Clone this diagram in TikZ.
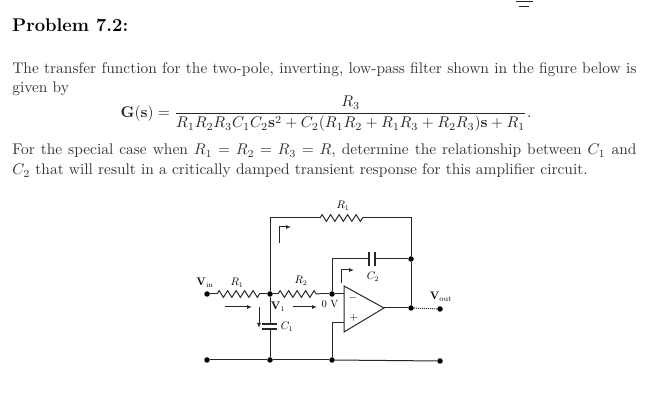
\documentclass[tikz,border=0pt]{standalone}
\usepackage{amsmath}
\usepackage{amssymb}
\usetikzlibrary{decorations.pathmorphing}
\usetikzlibrary{arrows.meta}
\tikzstyle{wire} = [line width=1pt, black!85]
\tikzstyle{dotnode} = [circle, fill=black, inner sep=0pt, minimum size=5.5pt]
\tikzstyle{resistor} = [line width=1pt, black!85, decorate, decoration={zigzag, segment length=8.5pt, amplitude=3.4pt}]
\tikzstyle{plate} = [line width=1.1pt, black!85]
\tikzstyle{current} = [line width=1pt, black!85, -{Latex[length=5pt,width=4pt]}]
\tikzstyle{bodytext} = [anchor=base west, inner sep=0pt, black!80, scale=1.545]
\tikzstyle{circuitlabel} = [inner sep=0pt, font=\fontsize{10.5}{11}\selectfont]
\begin{document}
\begin{tikzpicture}[x=1pt, y=-1pt]
    \useasboundingbox (0,0) rectangle (665,403);

    % text
    \node[inner sep=0pt, anchor=base west] (title) at (12,32) {\fontsize{18.4}{22}\selectfont\bfseries Problem 7.2:};
    \node[bodytext] (line_a) at (12,74) {\makebox[404pt][s]{The transfer function for the two-pole, inverting, low-pass filter shown in the figure below is}};
    \node[bodytext] (line_b) at (12,93) {given by};
    \node[inner sep=0pt, black!85, scale=1.545] (formula) at (326,114) {$\mathbf{G(s)} = \dfrac{R_3}{R_1R_2R_3C_1C_2\mathbf{s}^2 + C_2(R_1R_2 + R_1R_3 + R_2R_3)\mathbf{s} + R_1}.$};
    \node[bodytext] (line_c) at (12,155) {\makebox[404pt][s]{For the special case when $R_1 = R_2 = R_3 = R$, determine the relationship between $C_1$ and}};
    \node[bodytext] (line_d) at (12,175) {$C_2$ that will result in a critically damped transient response for this amplifier circuit.};

    % scan marks at the top edge
    \draw[wire] (516,2) -- (533,2);
    \draw[wire] (519,7) -- (529,7);

    % junctions
    \node[dotnode] (vin) at (207,294) {};
    \node[dotnode] (vone) at (270,294) {};
    \node[dotnode] (vminus) at (332,294) {};
    \node[dotnode] (vout) at (440,309) {};
    \node[dotnode] (outjoin) at (411,308) {};
    \node[dotnode] (capjoin) at (411,259) {};
    \node[dotnode] (gnd_a) at (207,360) {};
    \node[dotnode] (gnd_b) at (270,360) {};
    \node[dotnode] (gnd_c) at (332,360) {};
    \node[dotnode] (gnd_d) at (440,361) {};

    % op amp
    \coordinate (amp_a) at (344,286);
    \coordinate (amp_b) at (344,332);
    \coordinate (amp_c) at (384,308);
    \draw[wire] (amp_a) -- (amp_b) -- (amp_c) -- cycle;
    \coordinate (amp_minus) at (344,294);
    \coordinate (amp_plus) at (344,323);
    \coordinate (plus_bend) at (332,323);

    % resistors
    \coordinate (r_a_in) at (217,294);
    \coordinate (r_a_out) at (260,294);
    \coordinate (r_b_in) at (278,294);
    \coordinate (r_b_out) at (320,294);
    \coordinate (r_c_in) at (320,218);
    \coordinate (r_c_out) at (363,218);
    \coordinate (top_left) at (270,218);
    \coordinate (top_right) at (411,218);
    \draw[wire] (vin) -- (r_a_in);
    \draw[resistor] (r_a_in) -- (r_a_out);
    \draw[wire] (r_a_out) -- (vone);
    \draw[wire] (vone) -- (r_b_in);
    \draw[resistor] (r_b_in) -- (r_b_out);
    \draw[wire] (r_b_out) -- (vminus);
    \draw[wire] (vminus) -- (amp_minus);
    \draw[wire] (vone) -- (top_left) -- (r_c_in);
    \draw[resistor] (r_c_in) -- (r_c_out);
    \draw[wire] (r_c_out) -- (top_right) -- (capjoin);
    \draw[wire] (capjoin) -- (outjoin);
    \draw[wire] (amp_c) -- (outjoin);
    \draw[wire, densely dotted] (outjoin) -- (vout);

    % capacitors
    \coordinate (c_two_bend) at (332,259);
    \coordinate (c_two_a) at (369,259);
    \coordinate (c_two_b) at (375,259);
    \draw[wire] (vminus) -- (c_two_bend) -- (c_two_a);
    \draw[wire] (c_two_b) -- (capjoin);
    \draw[plate] (369,252) -- (369,266);
    \draw[plate] (375,252) -- (375,266);
    \coordinate (c_one_a) at (270,324);
    \coordinate (c_one_b) at (270,329);
    \draw[wire] (vone) -- (c_one_a);
    \draw[wire] (c_one_b) -- (gnd_b);
    \draw[plate] (262,324) -- (277,324);
    \draw[plate] (262,329) -- (277,329);

    % ground rail and plus input
    \draw[wire] (gnd_a) -- (gnd_b);
    \draw[wire] (gnd_b) -- (gnd_c);
    \draw[wire] (gnd_c) -- (gnd_d);
    \draw[wire] (amp_plus) -- (plus_bend) -- (gnd_c);

    % currents
    \draw[current] (279,243) -- (279,227) -- (291,227);
    \draw[current] (341,283) -- (341,270) -- (354,270);
    \draw[current] (225,307) -- (252,307);
    \draw[current] (293,307) -- (317,307);
    \draw[current] (259,307) -- (259,328);

    % labels
    \node[circuitlabel] (lab_rc) at (343,206) {$R_1$};
    \node[circuitlabel] (lab_ctwo) at (373,277) {$C_2$};
    \node[circuitlabel] (lab_vin) at (205,283) {$\mathbf{V}_{\text{in}}$};
    \node[circuitlabel] (lab_ra) at (237,283) {$R_1$};
    \node[circuitlabel] (lab_rb) at (301,281) {$R_2$};
    \node[circuitlabel] (lab_vone) at (278,307) {$\mathbf{V}_{1}$};
    \node[circuitlabel] (lab_zero) at (330,304) {0 V};
    \node[circuitlabel] (lab_cone) at (287,327) {$C_1$};
    \node[circuitlabel] (lab_vout) at (441,297) {$\mathbf{V}_{\text{out}}$};
    \node[circuitlabel] (lab_minus) at (353,298) {$-$};
    \node[circuitlabel] (lab_plus) at (354,318) {$+$};
\end{tikzpicture}
\end{document}
